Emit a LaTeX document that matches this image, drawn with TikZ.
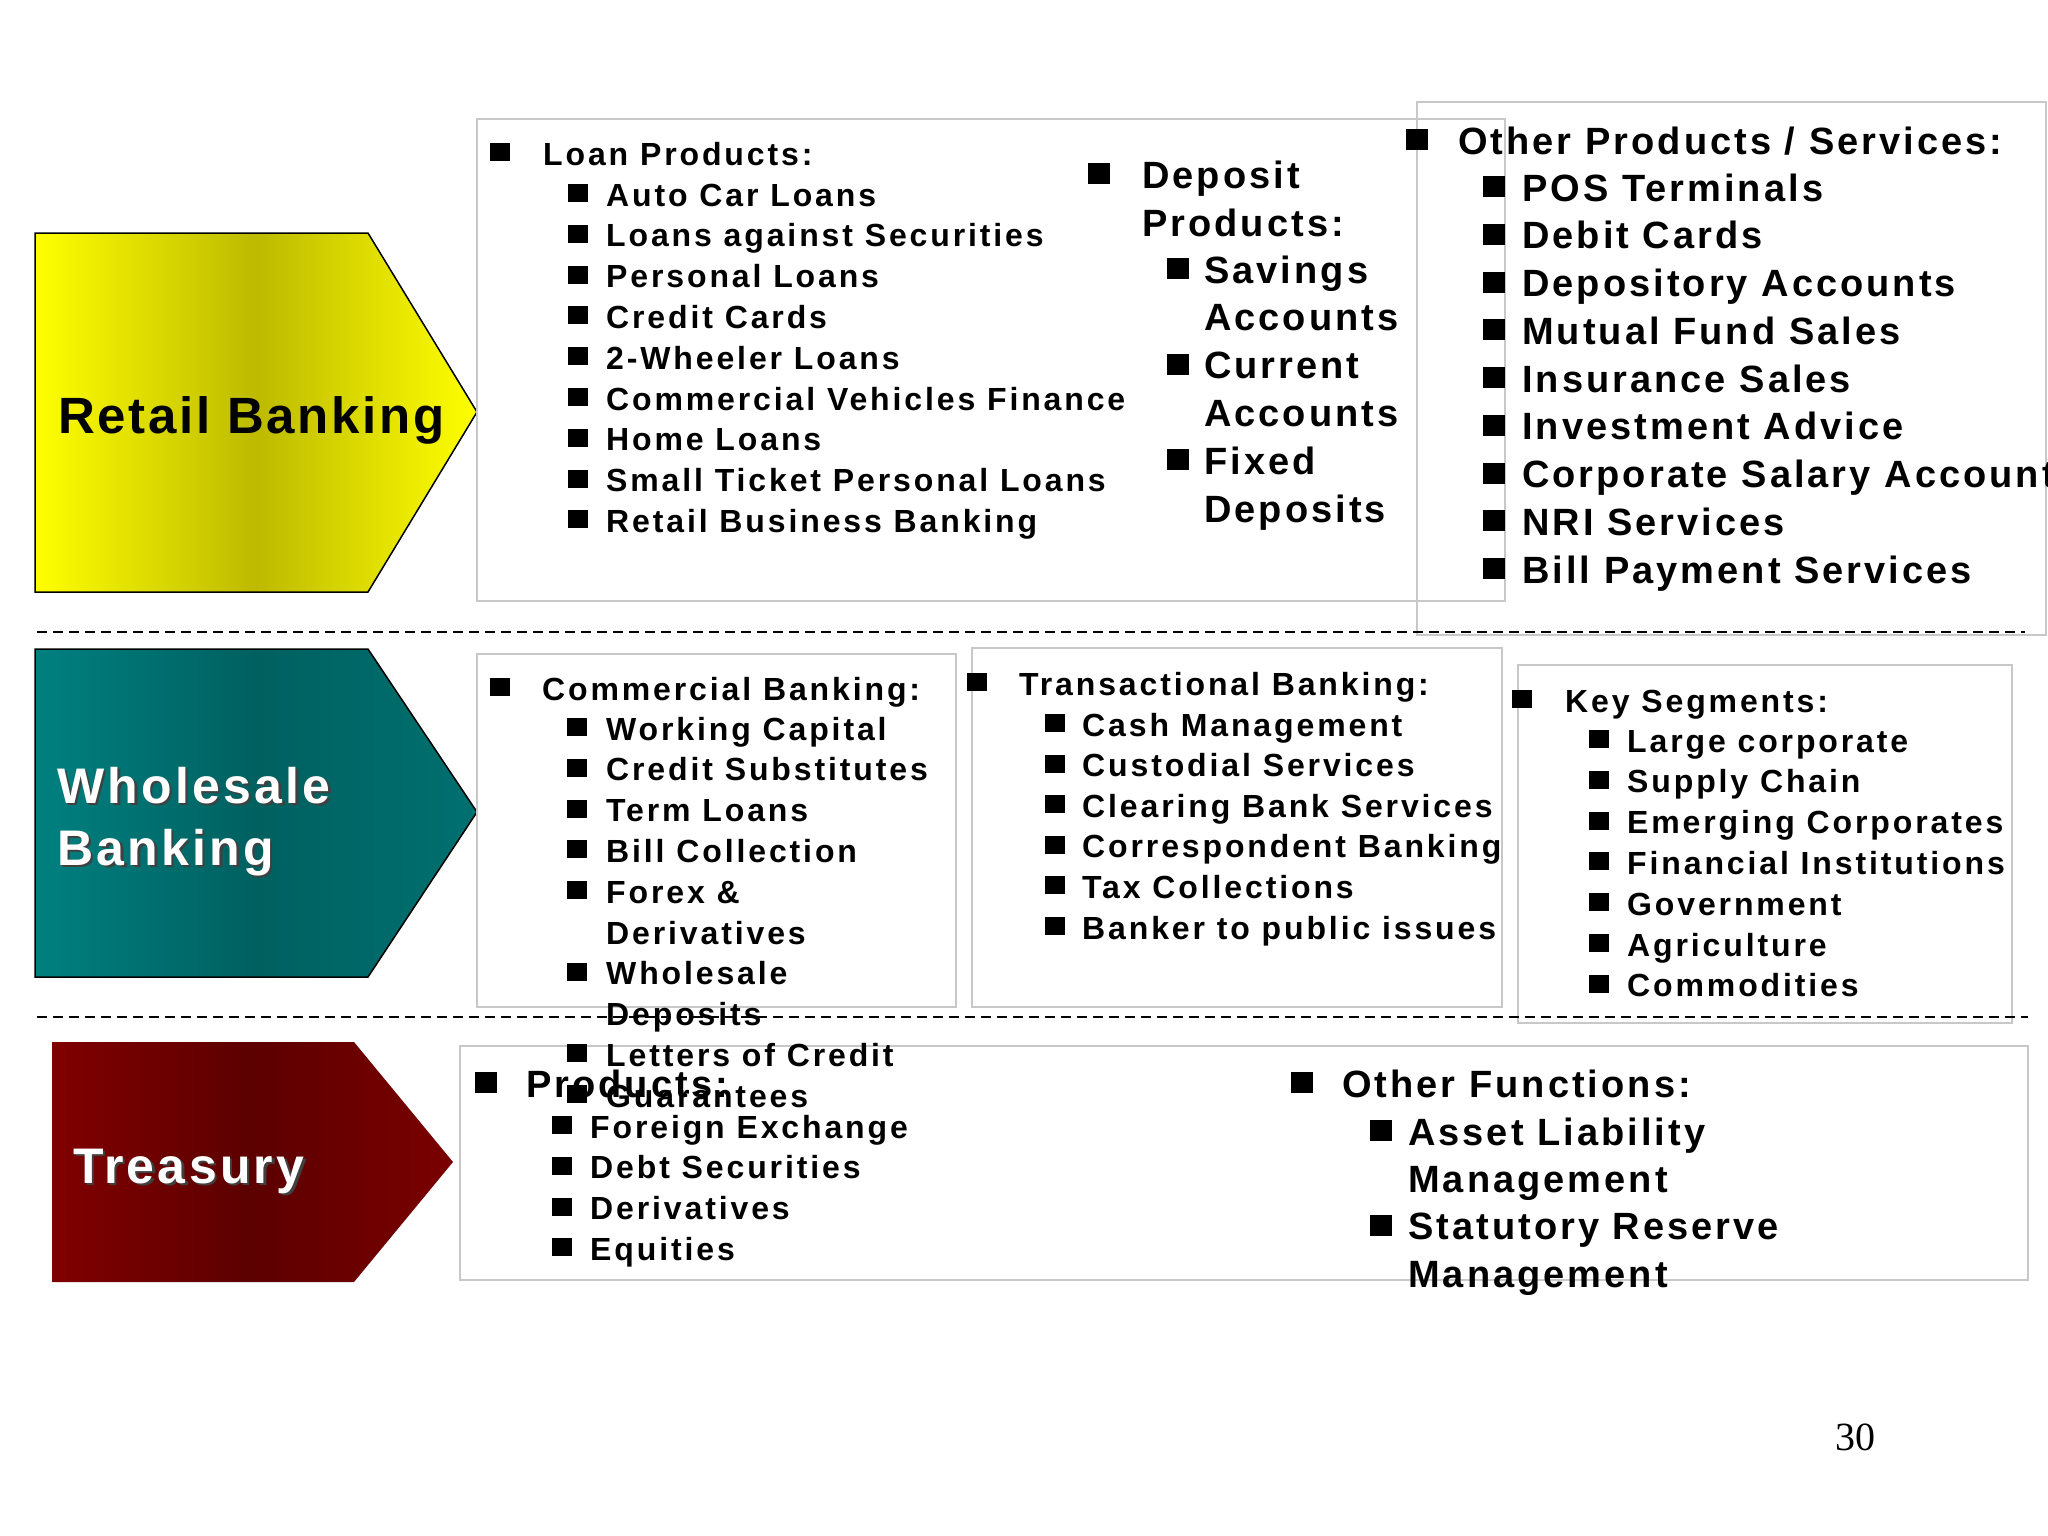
\documentclass[tikz,border=0pt]{standalone}
\usepackage{fontspec}
\setmainfont{Liberation Sans}[LetterSpace=9]
\newfontfamily\lgfont{Liberation Sans}[LetterSpace=8]
\newfontfamily\ttlfont{Liberation Sans}[LetterSpace=6.5]
\newfontfamily\rbfont{Liberation Sans}[LetterSpace=5.2]
\newfontfamily\pnfont{Liberation Serif}
\definecolor{ylwdark}{RGB}{189,186,0}
\definecolor{tealL}{RGB}{0,128,128}
\definecolor{tealM}{RGB}{0,96,96}
\definecolor{tealR}{RGB}{0,112,112}
\definecolor{marL}{RGB}{128,0,0}
\definecolor{marM}{RGB}{92,0,0}
\definecolor{marR}{RGB}{122,0,0}
\definecolor{boxgray}{RGB}{200,200,200}
\newcommand{\sqS}[2]{\fill (#1,#2-22) rectangle ++(20,18);}
\newcommand{\sqL}[2]{\fill (#1,#2-25) rectangle ++(22,21);}
\tikzset{
  boxline/.style={draw=boxgray, line width=1.6pt},
  sm/.style={anchor=base west, inner sep=0pt, font=\fontsize{32}{38}\selectfont\bfseries},
  lg/.style={anchor=base west, inner sep=0pt, font=\lgfont\fontsize{38}{46}\selectfont\bfseries},
  ttl/.style={anchor=base west, inner sep=0pt, font=\ttlfont\fontsize{50}{60}\selectfont\bfseries},
  dashline/.style={black, line width=2pt, dash pattern=on 10pt off 6pt},
}
\begin{document}
\begin{tikzpicture}[x=1pt,y=-1pt]
\useasboundingbox (0,0) rectangle (2048,1536);
\fill[white] (0,0) rectangle (2048,1536);
\clip (0,0) rectangle (2048,1536);

% ---- arrows ----
\shadedraw[left color=yellow, right color=yellow, middle color=ylwdark, draw=black, line width=1.5pt]
  (35,233) -- (368,233) -- (477,412) -- (368,592) -- (35,592) -- cycle;
\shadedraw[left color=tealL, right color=tealR, middle color=tealM, draw=black, line width=1.5pt]
  (35,649) -- (368,649) -- (477,812) -- (368,977) -- (35,977) -- cycle;
\shade[left color=marL, right color=marR, middle color=marM]
  (52,1042) -- (354,1042) -- (453,1162) -- (354,1282) -- (52,1282) -- cycle;

\node[anchor=base west, inner sep=0pt, font=\rbfont\fontsize{51}{60}\selectfont\bfseries] (rb) at (58,433) {Retail Banking};
\node[ttl, text=black!75] (wb1s) at (59.5,805.5) {Wholesale};
\node[ttl, text=black!75] (wb2s) at (59.5,867.5) {Banking};
\node[ttl, text=white] (wb1) at (57,803) {Wholesale};
\node[ttl, text=white] (wb2) at (57,865) {Banking};
\node[ttl, text=black!75] (trs) at (75.5,1185.5) {Treasury};
\node[ttl, text=white] (tr) at (73,1183) {Treasury};

% ---- boxes ----
\draw[boxline] (477,119) rectangle (1505,601);
\draw[boxline] (1417,102) rectangle (2046,635);
\draw[boxline] (477,654) rectangle (956,1007);
\draw[boxline] (972,648) rectangle (1502,1007);
\draw[boxline] (1518,665) rectangle (2012,1023);
\draw[boxline] (460,1046) rectangle (2028,1280);

% ---- dashed separators ----
\coordinate (d1a) at (37,632); \coordinate (d1b) at (2025,632);
\coordinate (d2a) at (37,1017); \coordinate (d2b) at (2028,1017);
\draw[dashline] (d1a) -- (d1b);
\draw[dashline] (d2a) -- (d2b);

% ---- Loan products ----
\sqS{490}{165}
\node[sm] (loan) at (543,165) {Loan Products:};
\foreach \t [count=\i from 0] in {Auto Car Loans, Loans against Securities, Personal Loans, Credit Cards, 2-Wheeler Loans, Commercial Vehicles Finance, Home Loans, Small Ticket Personal Loans, Retail Business Banking}{
  \pgfmathsetmacro\yy{206+40.8*\i}
  \sqS{568}{\yy}
  \node[sm] (loan\i) at (606,\yy) {\t};
}

% ---- Deposit products ----
\sqL{1088}{188}
\node[lg] (dep) at (1142,188) {Deposit};
\node[lg] (depb) at (1142,236) {Products:};
\foreach \t/\b [count=\i from 0] in {Savings/1, Accounts/0, Current/1, Accounts/0, Fixed/1, Deposits/0}{
  \pgfmathsetmacro\yy{283+47.8*\i}
  \ifnum\b=1 \sqL{1167}{\yy}\fi
  \node[lg] (depx\i) at (1204,\yy) {\t};
}

% ---- Other products ----
\sqL{1406}{154}
\node[lg] (oth) at (1458,154) {Other Products / Services:};
\foreach \t [count=\i from 0] in {POS Terminals, Debit Cards, Depository Accounts, Mutual Fund Sales, Insurance Sales, Investment Advice, Corporate Salary Account, NRI Services, Bill Payment Services}{
  \pgfmathsetmacro\yy{201+47.75*\i}
  \sqL{1483}{\yy}
  \node[lg] (oth\i) at (1522,\yy) {\t};
}

% ---- Commercial banking ----
\sqS{490}{700}
\node[sm] (com) at (542,700) {Commercial Banking:};
\foreach \t/\b [count=\i from 0] in {Working Capital/1, Credit Substitutes/1, Term Loans/1, Bill Collection/1, Forex \&/1, Derivatives/0, Wholesale/1, Deposits/0, Letters of Credit/1, Guarantees/1}{
  \pgfmathsetmacro\yy{740+40.8*\i}
  \ifnum\b=1 \sqS{567}{\yy}\fi
  \node[sm] (com\i) at (606,\yy) {\t};
}

% ---- Transactional banking ----
\sqS{967}{695}
\node[sm] (trn) at (1019,695) {Transactional Banking:};
\foreach \t [count=\i from 0] in {Cash Management, Custodial Services, Clearing Bank Services, Correspondent Banking, Tax Collections, Banker to public issues}{
  \pgfmathsetmacro\yy{736+40.6*\i}
  \sqS{1045}{\yy}
  \node[sm] (trn\i) at (1082,\yy) {\t};
}

% ---- Key segments ----
\sqS{1512}{712}
\node[sm] (key) at (1565,712) {Key Segments:};
\foreach \t [count=\i from 0] in {Large corporate, Supply Chain, Emerging Corporates, Financial Institutions, Government, Agriculture, Commodities}{
  \pgfmathsetmacro\yy{752+40.8*\i}
  \sqS{1589}{\yy}
  \node[sm] (key\i) at (1627,\yy) {\t};
}

% ---- Treasury products ----
\sqL{475}{1097}
\node[lg] (tp) at (526,1097) {Products:};
\foreach \t [count=\i from 0] in {Foreign Exchange, Debt Securities, Derivatives, Equities}{
  \pgfmathsetmacro\yy{1138+40.8*\i}
  \sqS{552}{\yy}
  \node[sm] (tp\i) at (590,\yy) {\t};
}

% ---- Other functions ----
\sqL{1291}{1097}
\node[lg] (of) at (1342,1097) {Other Functions:};
\foreach \t/\b [count=\i from 0] in {Asset Liability/1, Management/0, Statutory Reserve/1, Management/0}{
  \pgfmathsetmacro\yy{1145+47.4*\i}
  \ifnum\b=1 \sqL{1370}{\yy}\fi
  \node[lg] (of\i) at (1408,\yy) {\t};
}

% ---- page number ----
\node[anchor=base west, inner sep=0pt, font=\pnfont\fontsize{40}{48}\selectfont] (pn) at (1835,1450) {30};
\end{tikzpicture}
\end{document}
